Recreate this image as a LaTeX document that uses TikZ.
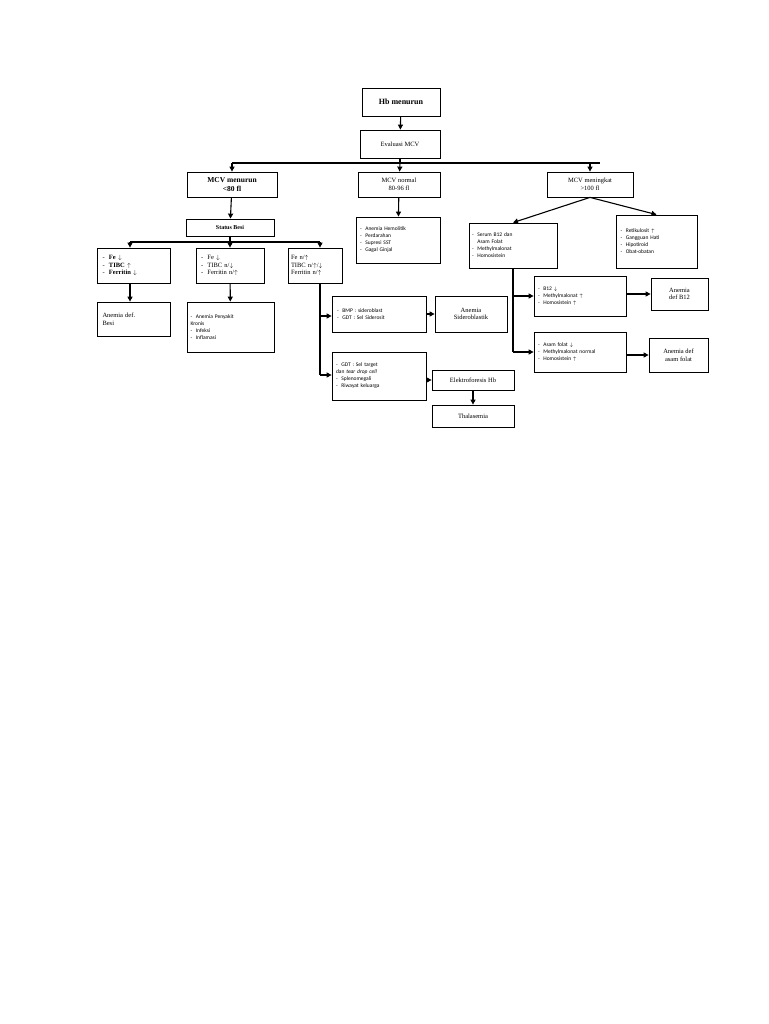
\documentclass[tikz,border=0pt]{standalone}
\usepackage{fontspec}
\setmainfont{Liberation Serif}
\newfontfamily\lst{Carlito}
\usetikzlibrary{arrows.meta}
\begin{document}
\begin{tikzpicture}[x=1pt,y=-1pt,
 box/.style={draw,line width=0.8pt,inner sep=2pt,font=\fontsize{6.5}{7.5}\selectfont,align=center},
 lbox/.style={box,font=\lst\fontsize{5.5}{7}\selectfont,align=left},
 arr/.style={line width=1.1pt,-{Triangle[length=5pt,width=5pt]}},
 ln/.style={line width=1.1pt}]
\useasboundingbox (0,0) rectangle (768,1024);
\node[box,font=\bfseries\fontsize{8}{9}\selectfont,minimum width=78,minimum height=28] (hb) at (401,102) {Hb menurun};
\node[box,minimum width=80,minimum height=28] (ev) at (400,144) {Evaluasi MCV};
\node[box,font=\bfseries\fontsize{7.5}{8.5}\selectfont,minimum width=90,minimum height=25] (mm) at (232,184.5) {MCV menurun\\{<}80 fl};
\node[box,minimum width=82,minimum height=25] (mn) at (399,184.5) {MCV normal\\80-96 fl};
\node[box,minimum width=86,minimum height=25] (mi) at (590,184.5) {MCV meningkat\\{>}100 fl};
\coordinate (j1) at (400,163);
\draw[arr] (hb) -- (ev);
\draw[ln] (ev) -- (j1);
\draw[ln] (232,163) -- (600,163);
\draw[arr] (232,163) -- (mm);
\draw[arr] (j1) -- (mn);
\draw[arr] (590,163) -- (mi);
\node[box,font=\bfseries\fontsize{6}{7}\selectfont,minimum width=88,minimum height=17] (sb) at (230,227.5) {Status Besi};
\draw[arr] (mm) -- (sb);
\node[box,font=\fontsize{6.5}{7.5}\selectfont,align=left,minimum width=73,minimum height=35,text width=62] (f1) at (133.5,265.5) {- \ \textbf{Fe} $\downarrow$\\- \ \textbf{TIBC} $\uparrow$\\- \ \textbf{Ferritin} $\downarrow$};
\node[box,align=left,minimum width=68,minimum height=35,text width=58] (f2) at (230,265.5) {- \ Fe $\downarrow$\\- \ TIBC n/$\downarrow$\\- \ Ferritin n/$\uparrow$};
\node[box,align=left,minimum width=54,minimum height=35,text width=48] (f3) at (315,265.5) {Fe n/$\uparrow$\\TIBC n/$\uparrow$/$\downarrow$\\Ferritin n/$\uparrow$};
\draw[ln] (sb) -- (230,242);
\draw[ln] (130,242) -- (320,242);
\draw[arr] (130,242) -- (f1.north -| 130,0);
\draw[arr] (230,242) -- (f2);
\draw[arr] (320,242) -- (f3.north -| 320,0);
\node[box,align=left,minimum width=73,minimum height=34,text width=62] (ad) at (133.5,319) {Anemia def.\\Besi};
\draw[arr] (f1.south -| 130,0) -- (ad.north -| 130,0);
\node[lbox,minimum width=87,minimum height=50,text width=80] (ap) at (230.5,327) {- \ Anemia Penyakit\\Kronis\\- \ Infeksi\\- \ Inflamasi};
\draw[arr] (f2) -- (ap);
\node[lbox,minimum width=84,minimum height=46,text width=76] (nl) at (398,240) {- \ Anemia Hemolitik\\- \ Perdarahan\\- \ Supresi SST\\- \ Gagal Ginjal};
\draw[arr] (mn) -- (nl);
\node[lbox,minimum width=88,minimum height=45,text width=82] (sr) at (513,245.5) {- \ Serum B12 dan\\\phantom{- \ }Asam Folat\\- \ Methylmalonat\\- \ Homosistein};
\node[lbox,minimum width=81,minimum height=53,text width=72] (rt) at (656.5,241.5) {- \ Retikulosit $\uparrow$\\- \ Gangguan Hati\\- \ Hipotiroid\\- \ Obat-obatan};
\draw[arr] (mi.south) -- (sr.north);
\draw[arr] (mi.south) -- (rt.north);
\node[lbox,minimum width=94,minimum height=36,text width=84] (bmp) at (379,314) {- \ BMP : sideroblast\\- \ GDT : Sel Siderosit};
\node[box,minimum width=72,minimum height=36] (as) at (471,314) {Anemia\\Sideroblastik};
\node[lbox,minimum width=94,minimum height=48,text width=86] (gdt) at (379,376) {- \ GDT : Sel target\\dan \textit{tear drop cell}\\- \ Splenomegali\\- \ Riwayat keluarga};
\node[box,minimum width=82,minimum height=20] (el) at (473,380) {Elektroforesis Hb};
\node[box,minimum width=82,minimum height=22] (th) at (473,416) {Thalasemia};
\coordinate (c3) at (320,316);
\draw[ln] (f3.south -| 320,0) -- (320,375);
\draw[arr] (320,316) -- (bmp.west |- 0,316);
\draw[arr] (320,375) -- (gdt.west |- 0,375);
\draw[arr] (bmp) -- (as);
\draw[arr] (gdt.east |- el) -- (el);
\draw[arr] (el) -- (th);
\node[lbox,minimum width=92,minimum height=40,text width=84] (b12) at (580,296) {- \ B12 $\downarrow$\\- \ Methylmalonat $\uparrow$\\- \ Homosistein $\uparrow$};
\node[box,minimum width=57,minimum height=32] (ab) at (679.5,294) {Anemia\\def B12};
\node[lbox,minimum width=92,minimum height=40,text width=84] (af) at (580,352) {- \ Asam folat $\downarrow$\\- \ Methylmalonat normal\\- \ Homosistein $\uparrow$};
\node[box,minimum width=59,minimum height=34] (aa) at (678.5,355) {Anemia def\\asam folat};
\draw[ln] (sr.south -| 513,0) -- (513,352);
\draw[arr] (513,296) -- (b12.west |- 0,296);
\draw[arr] (513,352) -- (af.west |- 0,352);
\draw[arr] (b12.east |- ab) -- (ab);
\draw[arr] (af.east |- aa) -- (aa);
\end{tikzpicture}
\end{document}
